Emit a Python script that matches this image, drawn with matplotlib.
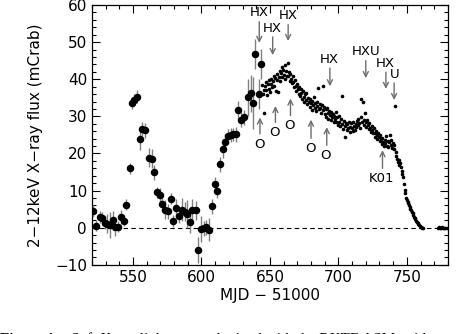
import numpy as np
import matplotlib
matplotlib.use("Agg")
import matplotlib.pyplot as plt
from matplotlib.ticker import MultipleLocator

# pointed / binned data with error bars (MJD-51000, mCrab, error)
bin_mjd = [521.0, 523.0, 525.6, 527.6, 529.2, 531.0, 533.4, 535.4, 537.0, 539.0,
           541.5, 543.2, 545.0, 547.5, 549.5, 551.0, 553.0, 555.0, 556.8, 559.0,
           561.4, 563.6, 565.3, 567.2, 569.4, 571.4, 573.0, 575.3, 577.4, 579.2,
           581.6, 583.6, 585.8, 587.7, 589.6, 591.3, 593.3, 595.7, 597.7, 599.9,
           601.5, 603.5, 605.5, 607.7, 609.6, 611.6, 613.5, 615.6, 617.5, 619.3,
           621.2, 623.2, 625.2, 627.0, 629.0, 630.7, 633.7, 635.8, 637.6, 639.4,
           641.7, 643.6]
bin_flux = [4.5, 0.5, 2.9, 2.7, 1.4, 1.1, 0.8, 2.1, 0.3, 0.3,
            2.9, 1.9, 6.2, 16.0, 33.5, 34.4, 35.3, 23.9, 26.6, 26.3,
            18.9, 18.6, 14.9, 9.5, 8.8, 6.3, 4.9, 4.4, 7.8, 1.8,
            5.2, 3.2, 4.9, 4.3, 3.7, 1.6, 4.7, 4.7, -6.1, -0.4,
            -0.1, 0.1, -0.5, 5.8, 11.7, 10.0, 17.1, 21.3, 23.2, 24.6,
            25.0, 25.2, 25.2, 31.7, 29.1, 29.7, 35.2, 36.2, 33.5, 46.8,
            36.1, 44.1]
bin_err = [1.5, 1.5, 1.5, 1.5, 1.8, 2.5, 3.5, 2.5, 2.5, 1.5,
           1.8, 1.5, 1.5, 1.5, 1.5, 1.5, 1.8, 3.0, 2.0, 2.0,
           2.5, 2.5, 2.0, 1.5, 1.8, 1.8, 2.5, 2.0, 1.5, 1.5,
           2.5, 2.0, 3.0, 2.5, 3.8, 3.0, 3.0, 2.5, 3.5, 3.5,
           2.0, 2.0, 3.0, 2.0, 2.0, 2.0, 2.0, 2.5, 2.0, 2.0,
           2.0, 1.8, 2.0, 2.5, 2.0, 2.0, 5.0, 5.0, 7.0, 4.0,
           4.0, 4.0]

# dense dwell data (no error bars)
dwell_mjd = [644.2, 644.8, 645.3, 645.8, 646.3, 646.9, 647.4, 647.9, 648.5, 649.0,
             649.5, 650.1, 650.6, 651.1, 651.7, 652.2, 652.7, 653.3, 653.8, 654.3,
             654.9, 655.4, 655.9, 656.5, 657.0, 657.5, 658.1, 658.6, 659.1, 659.7,
             660.2, 660.7, 661.3, 661.8, 662.3, 662.9, 663.4, 663.9, 664.5, 665.0,
             665.5, 666.1, 666.6, 667.1, 667.7, 668.2, 668.7, 669.3, 669.8, 670.3,
             670.9, 671.4, 671.9, 672.5, 673.0, 673.5, 674.1, 674.6, 675.1, 675.7,
             676.2, 676.7, 677.3, 677.8, 678.3, 678.9, 679.4, 679.9, 680.5, 681.0,
             681.5, 682.1, 682.6, 683.1, 683.7, 684.2, 684.7, 685.3, 685.8, 686.3,
             686.9, 687.4, 687.9, 688.5, 689.0, 689.5, 690.1, 690.6, 691.1, 691.7,
             692.2, 692.7, 693.3, 693.8, 694.3, 694.9, 695.4, 695.9, 696.5, 697.0,
             697.5, 698.1, 698.6, 699.1, 699.7, 700.2, 700.7, 701.3, 701.8, 702.3,
             702.9, 703.4, 704.0, 704.5, 705.0, 705.6, 706.1, 706.6, 707.2, 707.7,
             708.2, 708.8, 709.3, 709.8, 710.4, 710.9, 711.4, 712.0, 712.5, 713.0,
             713.6, 714.1, 714.6, 715.2, 715.7, 716.2, 716.8, 717.3, 717.8, 718.4,
             718.9, 719.4, 720.0, 720.5, 721.0, 721.6, 722.1, 722.6, 723.2, 723.7,
             724.2, 724.8, 725.3, 725.8, 726.4, 726.9, 727.4, 728.0, 728.5, 729.0,
             729.6, 730.1, 730.6, 731.2, 731.7, 732.2, 732.8, 733.3, 733.8, 734.4,
             734.9, 735.4, 736.0, 736.5, 737.1, 737.6, 738.1, 738.7, 739.2, 739.7,
             740.3, 740.8, 741.3, 741.9, 742.4, 742.9, 743.5, 744.0, 744.6, 745.1,
             745.7, 746.2, 746.7, 747.3, 747.8, 748.3, 748.9, 749.4, 749.9, 750.5,
             751.0, 751.5, 752.1, 752.6, 753.1, 753.7, 754.2, 754.7, 755.3, 755.8,
             756.3, 756.9, 757.4, 757.9, 758.5, 759.0, 759.6, 760.1, 760.6, 761.2,
             761.7, 772.5, 773.2, 774.0, 774.7, 775.5, 776.2, 777.0, 778.0, 779.0]
dwell_flux = [38.5, 36.0, 37.2, 31.0, 38.1, 37.0, 39.2, 35.8, 38.6, 37.4,
              39.8, 36.5, 38.8, 40.1, 37.9, 39.5, 41.0, 38.2, 40.3, 36.8,
              39.9, 41.5, 36.5, 40.6, 42.2, 39.4, 41.8, 43.4, 40.5, 42.6,
              41.2, 43.9, 40.1, 42.3, 41.0, 44.3, 40.8, 42.0, 39.6, 41.4,
              40.2, 38.9, 40.9, 39.2, 37.8, 39.8, 38.3, 36.9, 38.7, 37.4,
              36.1, 38.0, 35.4, 37.3, 36.2, 34.7, 36.8, 35.1, 33.9, 35.9,
              34.4, 36.3, 33.2, 35.0, 34.0, 32.4, 34.6, 33.5, 31.8, 34.2,
              33.0, 35.3, 32.3, 33.6, 31.4, 34.0, 32.7, 37.7, 31.9, 33.4,
              32.2, 30.9, 33.0, 31.6, 38.2, 32.4, 30.6, 31.9, 29.8, 32.3,
              31.0, 29.4, 31.5, 30.3, 28.9, 31.1, 29.8, 30.6, 28.6, 30.1,
              29.2, 31.3, 28.4, 29.7, 27.8, 30.0, 28.6, 27.3, 29.4, 35.5,
              27.9, 26.6, 28.8, 24.4, 27.4, 28.3, 26.3, 27.9, 26.9, 28.5,
              27.2, 25.9, 28.1, 27.0, 26.1, 28.4, 27.5, 26.4, 28.0, 27.2,
              28.7, 27.6, 29.3, 28.2, 27.0, 34.6, 29.7, 28.5, 33.8, 29.0,
              27.8, 30.9, 28.4, 27.2, 28.9, 27.7, 26.5, 28.1, 27.0, 25.8,
              27.5, 26.3, 25.4, 26.9, 25.6, 24.5, 26.1, 25.1, 24.0, 25.5,
              24.4, 23.3, 24.9, 23.8, 22.6, 24.3, 23.2, 22.1, 23.7, 22.8,
              24.6, 22.0, 23.4, 21.8, 23.0, 24.9, 22.4, 23.6, 21.5, 22.7,
              21.2, 22.2, 32.8, 20.3, 19.4, 18.6, 17.8, 18.3, 16.9, 17.4,
              16.4, 15.2, 14.6, 13.8, 11.9, 10.3, 9.4, 8.1, 7.6, 7.0,
              6.6, 6.1, 5.7, 5.0, 4.8, 4.3, 4.0, 3.4, 3.0, 2.6,
              2.3, 1.8, 1.5, 1.2, 0.9, 0.7, 0.4, 0.2, 0.1, 0.0,
              0.0, 0.0, 0.1, 0.0, 0.0, 0.1, 0.0, 0.0, 0.0, 0.0]

# observation markers: label, MJD, arrow top, arrow bottom
down_labels = ["HX", "HX", "HX", "HX", "HXU", "HX", "U"]
down_mjd = [642.2, 652.0, 663.3, 693.8, 720.0, 734.7, 740.7]
down_top = [55.5, 51.4, 54.7, 43.0, 45.0, 41.9, 39.0]
down_tip = [49.8, 46.5, 50.3, 38.1, 40.3, 37.4, 34.4]
down_dx = [0.0, -0.5, 0.0, -0.6, 0.0, -0.8, 0.4]

up_labels = ["O", "O", "O", "O", "O", "K01"]
up_mjd = [642.7, 654.0, 665.0, 680.0, 691.5, 732.2]
up_tip = [29.7, 32.8, 34.8, 29.1, 27.1, 20.9]
up_bottom = [25.3, 28.4, 30.2, 24.1, 22.2, 16.0]

plt.rcParams["font.family"] = "DejaVu Sans"
fig = plt.figure(figsize=(4.74, 3.34), dpi=100)
ax = fig.add_axes([0.194, 0.207, 0.751, 0.778])

ax.axhline(0, color="black", ls=(0, (4, 3)), lw=0.8, zorder=1)

ax.errorbar(bin_mjd, bin_flux, yerr=bin_err, fmt="o", color="black",
            ecolor="#808080", elinewidth=1.0, capsize=0, ms=4.4, zorder=3)
ax.plot(dwell_mjd, dwell_flux, "o", color="black", ms=2.6, mew=0, zorder=3)

arrow_kw = dict(arrowstyle="->", color="#6e6e6e", lw=1.0,
                shrinkA=0, shrinkB=0, mutation_scale=9)
for lab, x, y0, y1, dx in zip(down_labels, down_mjd, down_top, down_tip, down_dx):
    ax.annotate("", xy=(x, y1), xytext=(x, y0), arrowprops=arrow_kw)
    ax.text(x + dx, y0 + 0.6, lab, ha="center", va="bottom", fontsize=9.5)
for lab, x, y0, y1 in zip(up_labels, up_mjd, up_tip, up_bottom):
    ax.annotate("", xy=(x, y0), xytext=(x, y1), arrowprops=arrow_kw)
    ax.text(x - 0.6, y1 - 1.0, lab, ha="center", va="top", fontsize=9.5)

ax.set_xlim(520, 780)
ax.set_ylim(-10, 60)
ax.xaxis.set_major_locator(MultipleLocator(50))
ax.xaxis.set_minor_locator(MultipleLocator(10))
ax.yaxis.set_major_locator(MultipleLocator(10))
ax.yaxis.set_minor_locator(MultipleLocator(2))
ax.tick_params(which="both", direction="in", top=True, right=True,
               labelsize=11, width=0.8)
ax.tick_params(which="major", length=6)
ax.tick_params(which="minor", length=3)
for s in ax.spines.values():
    s.set_linewidth(0.9)

ax.set_xlabel("MJD \u2212 51000", fontsize=11, labelpad=2)
ax.set_ylabel("2\u221212keV X\u2212ray flux (mCrab)", fontsize=11, labelpad=9)

fig.text(0.0, 0.004, "Figure 1.", fontsize=11, fontweight="bold",
         family="Liberation Serif", va="top", ha="left")
fig.text(0.15, 0.004, "Soft X-ray light curve obtained with the RXTE ASM, with",
         fontsize=11, family="Liberation Serif", va="top", ha="left")

fig.savefig("out.png", dpi=100)
